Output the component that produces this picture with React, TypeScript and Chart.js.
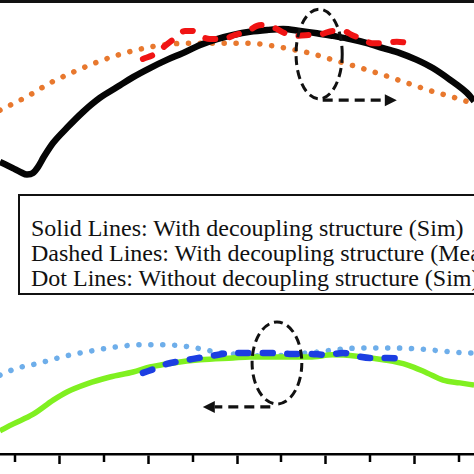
import { useEffect, useRef } from "react";
import { Chart, registerables } from "chart.js";

Chart.register(...registerables);

// x axis: eleven tick positions, every other one drawn long
const TICK_VALUES = [0, 1, 2, 3, 4, 5, 6, 7, 8, 9, 10];
const MAJOR_TICKS = [1, 3, 5, 7, 9];
const X_MIN = -0.338;
const X_MAX = 10.338;
const Y_MIN = 0;
const Y_MAX = 100;

// Upper group: with decoupling (Sim), solid black
const upperSimX = [-0.34, -0.05, 0.13, 0.27, 0.4, 0.52, 0.65, 0.86, 1.17, 1.53, 1.91, 2.3, 2.66, 3.04, 3.42, 3.78, 4.17, 4.55, 4.91, 5.29, 5.68, 6.04, 6.42, 6.8, 7.16, 7.55, 7.93, 8.29, 8.67, 9.05, 9.41, 9.8, 10.18, 10.34];
const upperSimY = [64.5, 63.1, 62.2, 61.7, 62.0, 63.4, 65.6, 68.7, 72.0, 75.5, 78.6, 81.0, 83.2, 85.2, 87.0, 88.5, 90.3, 91.6, 92.5, 93.2, 93.6, 93.8, 93.4, 92.9, 92.3, 91.6, 90.7, 89.6, 88.5, 87.0, 85.2, 82.6, 79.7, 77.9];

// Upper group: with decoupling (Meas), dashed red
const upperMeasX = [2.88, 3.15, 3.38, 3.6, 3.83, 3.99, 4.17, 4.39, 4.66, 4.96, 5.25, 5.45, 5.63, 5.86, 6.08, 6.35, 6.64, 6.91, 7.16, 7.39, 7.59, 7.82, 8.04, 8.33, 8.6, 8.92];
const upperMeasY = [87.2, 88.3, 90.1, 91.8, 93.4, 93.4, 92.3, 91.6, 91.6, 92.5, 93.4, 94.5, 94.7, 94.0, 92.9, 92.3, 92.5, 92.7, 93.4, 93.4, 92.5, 91.6, 90.7, 90.7, 91.0, 90.7];

// Upper group: without decoupling (Sim), dotted orange
const upperNoDecX = [-0.34, 0.29, 0.79, 1.31, 1.85, 2.39, 2.93, 3.49, 4.17, 4.96, 5.52, 6.08, 6.64, 7.16, 7.73, 8.29, 8.83, 9.39, 9.93, 10.34];
const upperNoDecY = [75.9, 79.0, 81.9, 84.3, 86.5, 88.3, 89.6, 90.5, 90.7, 90.7, 90.5, 89.6, 88.5, 87.0, 85.4, 83.7, 81.9, 80.1, 78.6, 77.3];

// Lower group: with decoupling (Sim), solid green
const lowerSimX = [-0.34, -0.05, 0.41, 0.86, 1.17, 1.62, 2.14, 2.66, 3.04, 3.56, 4.17, 4.91, 5.29, 6.04, 6.64, 7.16, 7.7, 8.29, 8.83, 9.28, 9.64, 10.02, 10.34];
const lowerSimY = [5.1, 6.6, 8.8, 11.9, 13.7, 15.5, 17.0, 18.1, 19.2, 20.1, 20.8, 21.2, 21.4, 21.4, 21.4, 21.9, 21.6, 20.8, 19.7, 17.9, 16.3, 15.7, 15.2];

// Lower group: with decoupling (Meas), dashed blue
const lowerMeasX = [2.88, 3.2, 3.42, 3.72, 4.01, 4.39, 4.91, 5.29, 5.68, 6.19, 6.58, 7.03, 7.39, 7.7, 8.0, 8.38, 8.67, 8.85];
const lowerMeasY = [17.9, 19.0, 19.9, 20.5, 21.0, 21.6, 22.3, 22.3, 22.3, 22.1, 22.1, 21.9, 22.3, 21.6, 21.2, 21.2, 21.0, 20.5];

// Lower group: without decoupling (Sim), dotted light blue
const lowerNoDecX = [-0.34, 0, 0.56, 1.13, 1.69, 2.25, 2.82, 3.4, 3.96, 4.55, 5.18, 5.74, 6.31, 6.8, 7.39, 7.95, 8.51, 9.08, 9.66, 10.23, 10.34];
const lowerNoDecY = [17.4, 18.8, 20.1, 21.6, 22.7, 23.6, 24.1, 24.1, 23.6, 22.5, 21.9, 21.6, 22.1, 22.5, 23.2, 23.4, 23.4, 23.2, 22.7, 22.3, 22.3];

const LEGEND_LINES = [
  "Solid Lines: With decoupling structure (Sim)",
  "Dashed Lines: With decoupling structure (Meas)",
  "Dot Lines: Without decoupling structure (Sim)",
];

// Dashed ellipses grouping the curves, each with an arrow pointing to its axis side
const MARKERS = [
  { cx: 6.85, cy: 88.3, rx: 0.52, ry: 9.9, arrowFrom: 6.93, arrowTo: 8.6, arrowY: 78.1 },
  { cx: 5.9, cy: 20.1, rx: 0.56, ry: 9.05, arrowFrom: 5.75, arrowTo: 4.23, arrowY: 10.4 },
];

const zip = (xs: number[], ys: number[]) => xs.map((x, i) => ({ x, y: ys[i] }));

const DOT = [0.1, 11.8];
const DASH = [10, 14.5];

const markerPlugin = {
  id: "markers",
  afterDatasetsDraw(chart: any) {
    const { ctx, chartArea } = chart;
    const xs = chart.scales.x;
    const ys = chart.scales.y;

    // short minor ticks between the long ones
    ctx.save();
    ctx.strokeStyle = "#000";
    ctx.lineWidth = 2.5;
    TICK_VALUES.filter((v) => !MAJOR_TICKS.includes(v)).forEach((v) => {
      const px = Math.round(xs.getPixelForValue(v));
      ctx.beginPath();
      ctx.moveTo(px, chartArea.bottom);
      ctx.lineTo(px, chartArea.bottom + 8);
      ctx.stroke();
    });
    ctx.restore();

    ctx.save();
    ctx.strokeStyle = "#111";
    ctx.fillStyle = "#111";
    MARKERS.forEach((m) => {
      const cx = xs.getPixelForValue(m.cx);
      const cy = ys.getPixelForValue(m.cy);
      const rx = Math.abs(xs.getPixelForValue(m.cx + m.rx) - cx);
      const ry = Math.abs(ys.getPixelForValue(m.cy + m.ry) - cy);
      ctx.lineWidth = 3;
      ctx.setLineDash([9, 5]);
      ctx.beginPath();
      ctx.ellipse(cx, cy, rx, ry, 0, 0, Math.PI * 2);
      ctx.stroke();

      const ay = ys.getPixelForValue(m.arrowY);
      const x0 = xs.getPixelForValue(m.arrowFrom);
      const x1 = xs.getPixelForValue(m.arrowTo);
      const dir = Math.sign(x1 - x0);
      const head = 12;
      ctx.lineWidth = 3.2;
      ctx.setLineDash([10, 6]);
      ctx.beginPath();
      ctx.moveTo(x0, ay);
      ctx.lineTo(x1 - dir * head, ay);
      ctx.stroke();
      ctx.setLineDash([]);
      ctx.beginPath();
      ctx.moveTo(x1, ay);
      ctx.lineTo(x1 - dir * head, ay - 6);
      ctx.lineTo(x1 - dir * head, ay + 6);
      ctx.closePath();
      ctx.fill();
    });
    ctx.restore();
  },
};

export default function App() {
  const ref = useRef<HTMLCanvasElement>(null);

  useEffect(() => {
    const canvas = ref.current;
    if (!canvas) return;
    const line = (data: any, color: string, width: number, dash: number[]) => ({
      data,
      borderColor: color,
      backgroundColor: color,
      borderWidth: width,
      borderDash: dash,
      borderCapStyle: dash.length ? "round" : "butt",
      borderJoinStyle: "round",
      cubicInterpolationMode: "monotone",
      pointRadius: 0,
      fill: false,
      xAxisID: "x",
      yAxisID: "y",
    });

    const chart = new Chart(canvas, {
      type: "line",
      data: {
        datasets: [
          line(zip(upperMeasX, upperMeasY), "#f01414", 6, DASH),
          line(zip(upperSimX, upperSimY), "#050505", 6.5, []),
          line(zip(upperNoDecX, upperNoDecY), "#e8782e", 5.5, DOT),
          line(zip(lowerMeasX, lowerMeasY), "#1c3ee2", 6.5, DASH),
          line(zip(lowerSimX, lowerSimY), "#80f020", 5.5, []),
          line(zip(lowerNoDecX, lowerNoDecY), "#6eaeea", 5.5, DOT),
        ] as any,
      },
      options: {
        animation: false,
        responsive: false,
        devicePixelRatio: 1,
        layout: { padding: { top: 1, bottom: 10, left: 0, right: 0 } },
        plugins: { legend: { display: false }, tooltip: { enabled: false } },
        scales: {
          x: {
            type: "linear",
            position: "bottom",
            min: X_MIN,
            max: X_MAX,
            afterBuildTicks: (scale: any) => {
              scale.ticks = TICK_VALUES.map((value) => ({ value }));
            },
            ticks: { display: false },
            grid: {
              drawOnChartArea: false,
              drawTicks: true,
              tickLength: 10,
              tickWidth: 2.5,
              tickColor: (c: any) =>
                c.tick && MAJOR_TICKS.includes(c.tick.value) ? "#000" : "rgba(0,0,0,0)",
            },
            border: { display: true, color: "#000", width: 2.5 },
          },
          xTop: {
            type: "linear",
            position: "top",
            min: X_MIN,
            max: X_MAX,
            ticks: { display: false },
            grid: { display: false, drawTicks: false },
            border: { display: true, color: "#111", width: 4 },
          },
          y: { type: "linear", display: false, min: Y_MIN, max: Y_MAX },
        },
      } as any,
      plugins: [markerPlugin],
    });
    return () => chart.destroy();
  }, []);

  return (
    <div
      style={{
        position: "fixed",
        left: 0,
        top: 0,
        width: 474,
        height: 474,
        overflow: "hidden",
        background: "#fff",
      }}
    >
      <canvas ref={ref} width={474} height={474} style={{ display: "block" }} />
      <div
        style={{
          position: "absolute",
          left: 18,
          top: 194,
          width: 490,
          height: 101,
          boxSizing: "border-box",
          border: "2px solid #111",
          background: "#fff",
          padding: "20px 0 0 11px",
          fontFamily: '"Liberation Serif", "Times New Roman", serif',
          fontSize: 24,
          lineHeight: "25px",
          color: "#111",
          whiteSpace: "nowrap",
        }}
      >
        {LEGEND_LINES.map((t) => (
          <div key={t}>{t}</div>
        ))}
      </div>
    </div>
  );
}
